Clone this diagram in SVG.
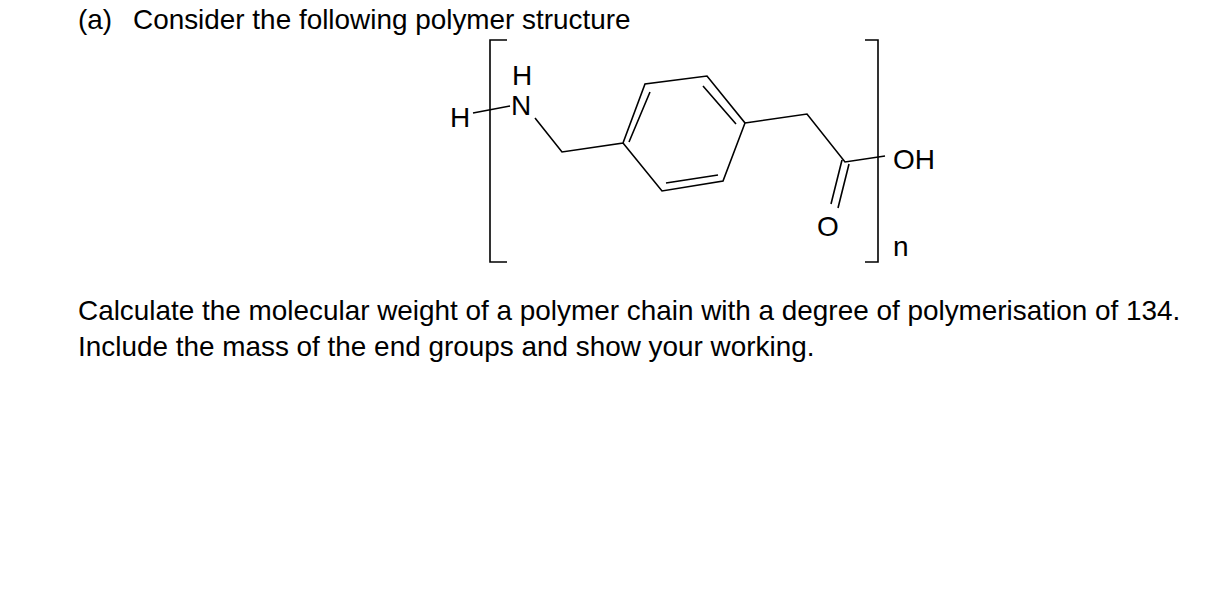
<svg xmlns="http://www.w3.org/2000/svg" width="1214" height="612" viewBox="0 0 1214 612">
<style>
text{font-family:"Liberation Sans",Arial,sans-serif;fill:#000}
.t{font-size:27.9px}
.a{font-size:28px}
.b{stroke:#000;stroke-width:1.6;fill:none}
</style>
<rect width="1214" height="612" fill="#fff"/>
<text class="t" x="78" y="29">(a)</text>
<text class="t" x="133" y="29">Consider the following polymer structure</text>
<g id="structure">
<path class="b" d="M507,40H490V262H507M865,40H878V262H865"/>
<path class="b" d="M473,113L510,106M535,118L562,152L623,143L645,84L707,76L745,123L723,181L662,191L623,143M650,92L629,142M703,86L736,124M718,175L666,183M745,123L807,114L845,162L885,156M849,164L838,208M842,160L831,204"/>
<text class="a" x="450" y="127">H</text>
<text class="a" x="512" y="85">H</text>
<text class="a" x="511" y="115">N</text>
<text class="a" x="893" y="169">OH</text>
<text class="a" x="817" y="236">O</text>
<text class="a" x="893" y="256">n</text>
</g>
<text class="t" x="78" y="320">Calculate the molecular weight of a polymer chain with a degree of polymerisation of 134.</text>
<text class="t" x="78" y="356">Include the mass of the end groups and show your working.</text>
</svg>
